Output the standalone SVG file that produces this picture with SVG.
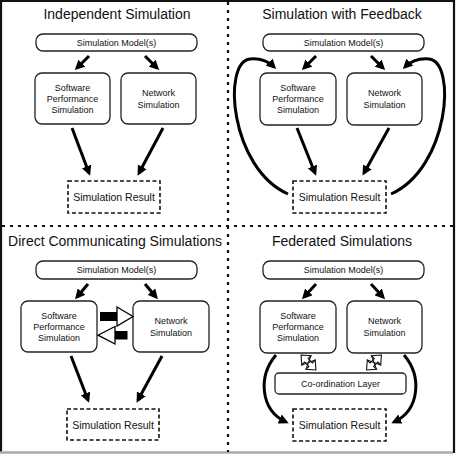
<svg xmlns="http://www.w3.org/2000/svg" width="474" height="454" viewBox="0 0 474 454">
<defs>
<style>
text{font-family:"Liberation Sans",Arial,sans-serif;fill:#111;text-anchor:middle}
.title{font-size:14px}
.lbl{font-size:9px}
.res{font-size:10.5px}
.box{fill:#fff;stroke:#222;stroke-width:1.3}
.dash{fill:#fff;stroke:#111;stroke-width:1.6;stroke-dasharray:4,2.5}
.arr{fill:none;stroke:#000;stroke-width:3;marker-end:url(#ah)}
.div{stroke:#111;stroke-width:2.2;stroke-dasharray:3,5;fill:none}
.dbl{fill:#fff;stroke:#111;stroke-width:1.1}
</style>
<marker id="ah" viewBox="0 0 10 10" refX="7" refY="5" markerWidth="10" markerHeight="10" markerUnits="userSpaceOnUse" orient="auto">
<path d="M0,0 L10,5 L0,10 z" fill="#000"/>
</marker>
</defs>
<rect x="0" y="0" width="474" height="454" fill="#fff"/>
<g id="frame">
<path d="M1,453 V1 H454 V453" fill="none" stroke="#111" stroke-width="2.2"/>
<line x1="0" y1="452.5" x2="453" y2="452.5" stroke="#aaa" stroke-width="2.5"/>
<line class="div" x1="228" y1="2" x2="228" y2="452"/>
<line class="div" x1="2" y1="226" x2="453" y2="226"/>
</g>

<!-- Panel 1 -->
<g id="p1-title"><text class="title" x="117" y="19">Independent Simulation</text></g>
<g id="p1-model"><rect class="box" x="36" y="34" width="161" height="17" rx="7"/><text class="lbl" x="116.5" y="45.5">Simulation Model(s)</text></g>
<g id="p1-sw"><rect class="box" x="35" y="73" width="75" height="51" rx="7"/><text class="lbl" x="72.5" y="91">Software</text><text class="lbl" x="72.5" y="102">Performance</text><text class="lbl" x="72.5" y="113">Simulation</text></g>
<g id="p1-net"><rect class="box" x="121" y="73" width="75" height="51" rx="7"/><text class="lbl" x="158.5" y="96">Network</text><text class="lbl" x="158.5" y="108">Simulation</text></g>
<g id="p1-res"><rect class="dash" x="68" y="181" width="92" height="32"/><text class="res" x="114" y="201">Simulation Result</text></g>

<!-- Panel 2 -->
<g id="p2-title"><text class="title" x="342" y="19">Simulation with Feedback</text></g>
<g id="p2-model"><rect class="box" x="263" y="34" width="161" height="17" rx="7"/><text class="lbl" x="343.5" y="45.5">Simulation Model(s)</text></g>
<g id="p2-sw"><rect class="box" x="260" y="73" width="76" height="52" rx="7"/><text class="lbl" x="298" y="91">Software</text><text class="lbl" x="298" y="102">Performance</text><text class="lbl" x="298" y="113">Simulation</text></g>
<g id="p2-net"><rect class="box" x="347" y="73" width="75" height="52" rx="7"/><text class="lbl" x="384.5" y="96">Network</text><text class="lbl" x="384.5" y="108">Simulation</text></g>
<g id="p2-res"><rect class="dash" x="293" y="181" width="93" height="32"/><text class="res" x="339.5" y="201">Simulation Result</text></g>

<!-- Panel 3 -->
<g id="p3-title"><text class="title" x="115" y="246">Direct Communicating Simulations</text></g>
<g id="p3-model"><rect class="box" x="36" y="261" width="161" height="18" rx="7"/><text class="lbl" x="116.5" y="273">Simulation Model(s)</text></g>
<g id="p3-sw"><rect class="box" x="21" y="301" width="76" height="51" rx="7"/><text class="lbl" x="59" y="319">Software</text><text class="lbl" x="59" y="330">Performance</text><text class="lbl" x="59" y="341">Simulation</text></g>
<g id="p3-net"><rect class="box" x="133" y="301" width="76" height="51" rx="7"/><text class="lbl" x="171" y="324">Network</text><text class="lbl" x="171" y="336">Simulation</text></g>
<g id="p3-res"><rect class="dash" x="67" y="409" width="92" height="31"/><text class="res" x="113" y="429">Simulation Result</text></g>

<!-- Panel 4 -->
<g id="p4-title"><text class="title" x="342" y="246">Federated Simulations</text></g>
<g id="p4-model"><rect class="box" x="263" y="261" width="161" height="18" rx="7"/><text class="lbl" x="343.5" y="273">Simulation Model(s)</text></g>
<g id="p4-sw"><rect class="box" x="260" y="301" width="76" height="52" rx="7"/><text class="lbl" x="298" y="319">Software</text><text class="lbl" x="298" y="330">Performance</text><text class="lbl" x="298" y="341">Simulation</text></g>
<g id="p4-net"><rect class="box" x="347" y="301" width="75" height="52" rx="7"/><text class="lbl" x="384.5" y="324">Network</text><text class="lbl" x="384.5" y="336">Simulation</text></g>
<g id="p4-coord"><rect class="box" x="275" y="373" width="131" height="21" rx="4"/><text class="lbl" x="340.5" y="387">Co-ordination Layer</text></g>
<g id="p4-res"><rect class="dash" x="293" y="409" width="93" height="32"/><text class="res" x="339.5" y="429">Simulation Result</text></g>

<g id="connectors">
<!-- panel 1 -->
<line class="arr" x1="89" y1="56" x2="77" y2="68"/>
<line class="arr" x1="145" y1="56" x2="157" y2="68"/>
<line class="arr" x1="72" y1="128" x2="89" y2="173"/>
<line class="arr" x1="163" y1="128" x2="139" y2="173"/>
<!-- panel 2 -->
<line class="arr" x1="316" y1="56" x2="304" y2="68"/>
<line class="arr" x1="371" y1="56" x2="383" y2="68"/>
<line class="arr" x1="297" y1="128" x2="315" y2="173"/>
<line class="arr" x1="389" y1="128" x2="364" y2="173"/>
<path class="arr" d="M288,194 C230,168 222,62 250,59 C262,58 269,62 274,67"/>
<path class="arr" d="M391,194 C449,168 457,62 429,59 C417,58 410,62 405,67"/>
<!-- panel 3 -->
<line class="arr" x1="88" y1="284" x2="77" y2="297"/>
<line class="arr" x1="145" y1="284" x2="156" y2="297"/>
<line class="arr" x1="71" y1="356" x2="88" y2="400"/>
<line class="arr" x1="162" y1="356" x2="138" y2="400"/>
<g id="block-arrows">
<rect x="100" y="312" width="17.5" height="9" fill="#000"/>
<polygon points="117,307 133,316.5 117,326" fill="#fff" stroke="#000" stroke-width="1.3"/>
<rect x="114.5" y="331" width="13" height="8.5" fill="#000"/>
<polygon points="115,326.5 98,335.2 115,344" fill="#fff" stroke="#000" stroke-width="1.3"/>
</g>
<!-- panel 4 -->
<line class="arr" x1="316" y1="284" x2="304" y2="297"/>
<line class="arr" x1="371" y1="284" x2="383" y2="297"/>
<path class="arr" d="M276,355 C258,376 260,410 286,422"/>
<path class="arr" d="M404,355 C422,376 420,410 394,422"/>
<g id="dbl-left" transform="translate(308.5,362.5) rotate(45)">
<polygon class="dbl" points="-10.5,0 -3,-6.5 -3,-2.5 3,-2.5 3,-6.5 10.5,0 3,6.5 3,2.5 -3,2.5 -3,6.5"/>
<path d="M-3,-6.5 L3,6.5 M3,-6.5 L-3,6.5" stroke="#111" stroke-width="1" fill="none"/>
</g>
<g id="dbl-right" transform="translate(374,362.5) rotate(-45)">
<polygon class="dbl" points="-10.5,0 -3,-6.5 -3,-2.5 3,-2.5 3,-6.5 10.5,0 3,6.5 3,2.5 -3,2.5 -3,6.5"/>
<path d="M-3,-6.5 L3,6.5 M3,-6.5 L-3,6.5" stroke="#111" stroke-width="1" fill="none"/>
</g>
</g>
</svg>
